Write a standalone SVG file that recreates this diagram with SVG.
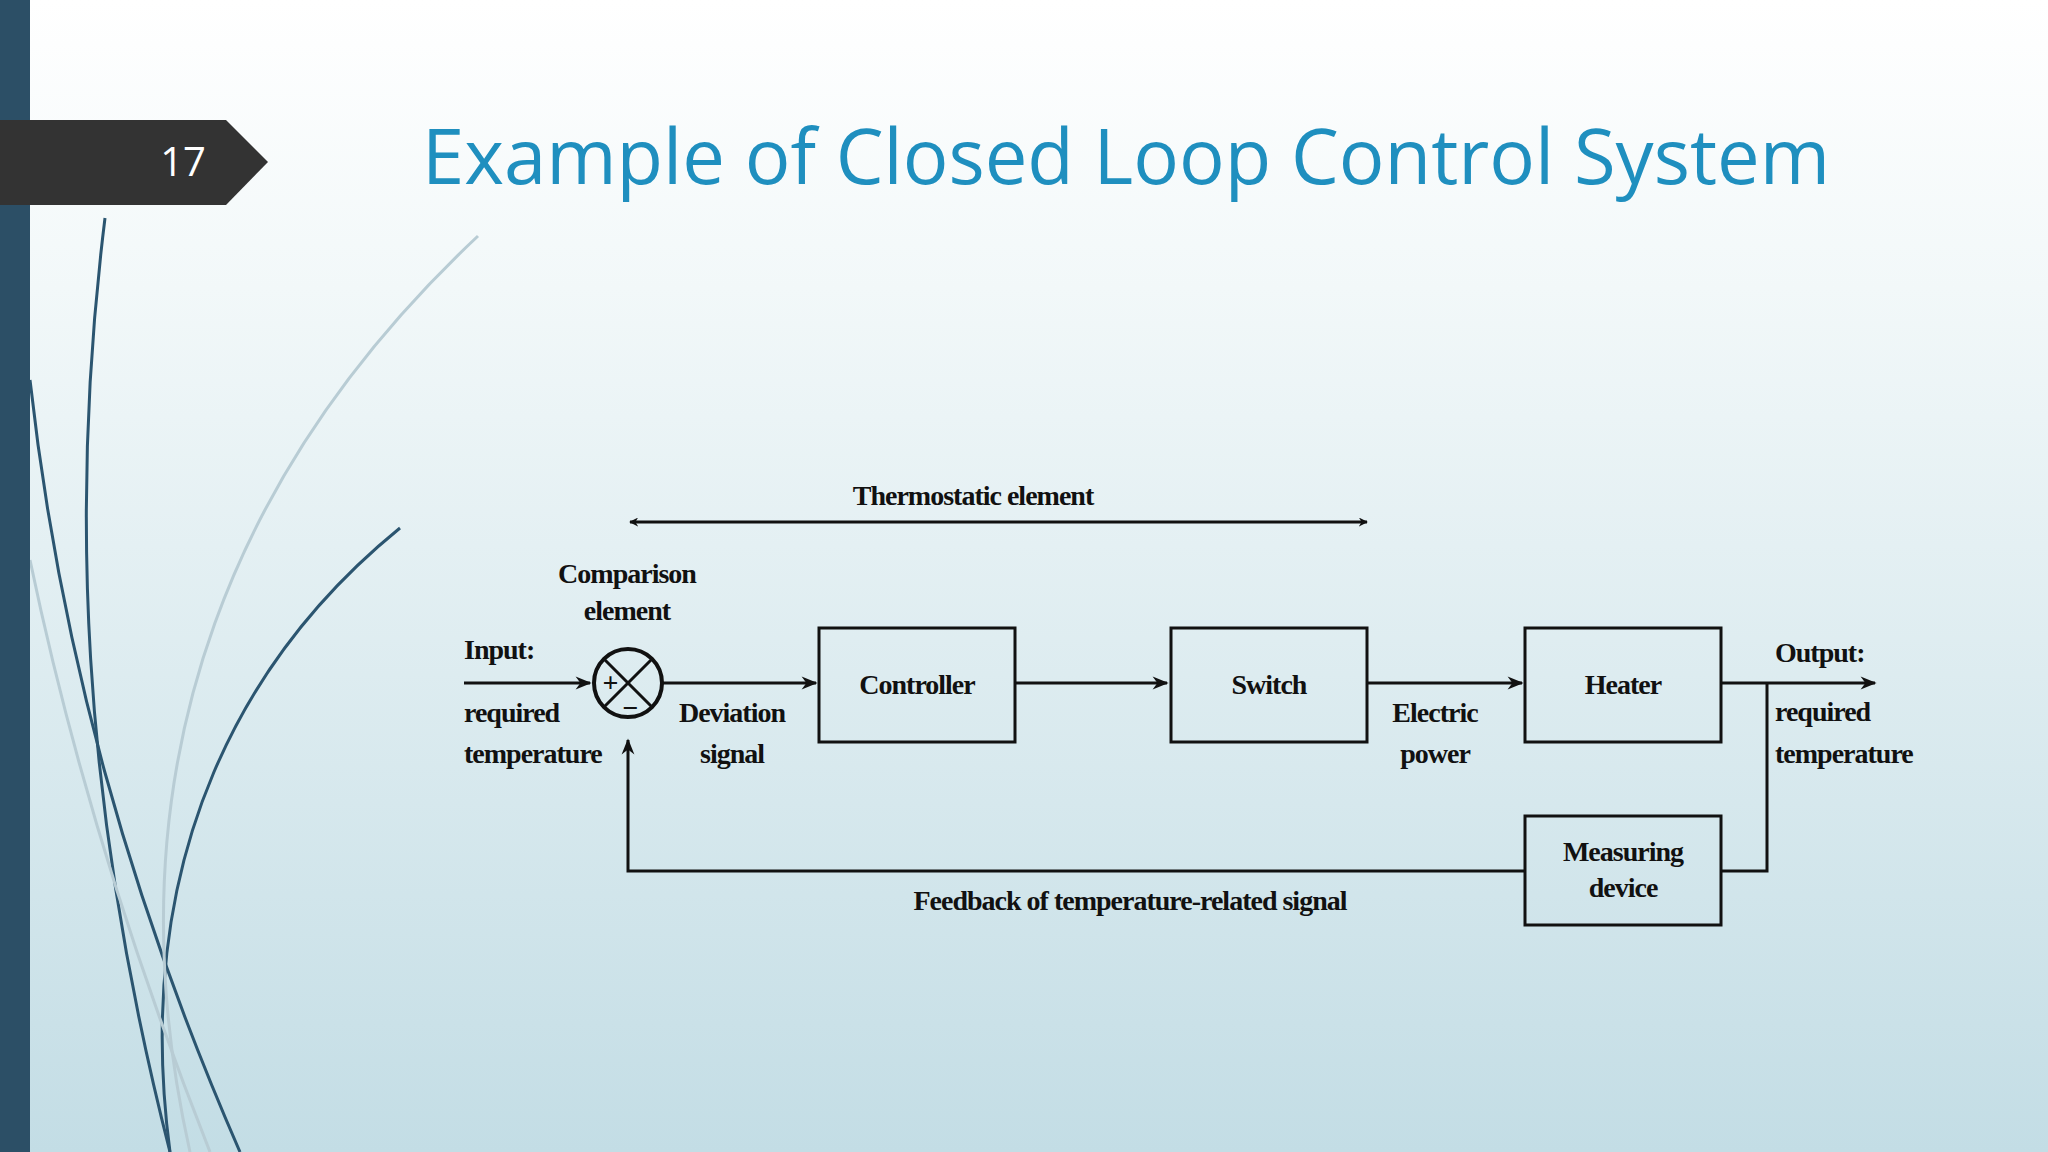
<svg xmlns="http://www.w3.org/2000/svg" width="2048" height="1152" viewBox="0 0 2048 1152">
<defs>
<linearGradient id="bg" x1="0" y1="0" x2="0" y2="1">
<stop offset="0" stop-color="#ffffff"/><stop offset="0.25" stop-color="#f2f8f9"/><stop offset="1" stop-color="#c3dde5"/>
</linearGradient>
<marker id="ah" viewBox="0 0 10 10" refX="9" refY="5" markerWidth="9" markerHeight="9" orient="auto-start-reverse" markerUnits="userSpaceOnUse"><path d="M0,0 L10,5 L0,10 L3,5 z" fill="#111"/></marker>
<marker id="ah2" viewBox="0 0 10 10" refX="9" refY="5" markerWidth="22" markerHeight="16" orient="auto-start-reverse" markerUnits="userSpaceOnUse"><path d="M0,1 L10,5 L0,9 L3,5 z" fill="#111"/></marker>
<style>
.t{font-family:"Liberation Serif",serif;font-size:28px;fill:#111;text-anchor:middle;font-weight:bold;letter-spacing:-1px}
.l{text-anchor:start}
.box{fill:none;stroke:#111;stroke-width:3}
.ln{fill:none;stroke:#111;stroke-width:3}
.deco{fill:none;stroke-width:3}
</style>
</defs>
<rect width="2048" height="1152" fill="url(#bg)"/>
<g id="decor">
<path class="deco" stroke="#2b5570" d="M105,218 C70,500 80,800 170,1152"/>
<path class="deco" stroke="#2b5570" d="M30,380 C60,650 130,900 240,1152"/>
<path class="deco" stroke="#2b5570" d="M400,528 C250,650 130,850 170,1152"/>
<path class="deco" stroke="#b8ccd4" d="M478,236 C250,450 100,750 190,1152"/>
<path class="deco" stroke="#b8ccd4" d="M30,560 C80,800 150,1000 210,1152"/>
<rect x="0" y="0" width="30" height="1152" fill="#2c4f66"/>
<path d="M0,120 H226 L268,162 L226,205 H0 z" fill="#333"/>
<text x="183" y="176" font-family="Open Sans, sans-serif" font-size="40" fill="#fff" text-anchor="middle">17</text>
<text x="1126" y="184" font-family="Open Sans, sans-serif" font-size="76" fill="#1f8fbf" text-anchor="middle">Example of Closed Loop Control System</text>
</g>
<g id="connectors">
<line class="ln" x1="630" y1="522" x2="1367" y2="522" marker-start="url(#ah)" marker-end="url(#ah)" stroke-width="2.5"/>
<line class="ln" x1="464" y1="683" x2="590" y2="683" marker-end="url(#ah2)"/>
<line class="ln" x1="663" y1="683" x2="816" y2="683" marker-end="url(#ah2)"/>
<line class="ln" x1="1015" y1="683" x2="1167" y2="683" marker-end="url(#ah2)"/>
<line class="ln" x1="1367" y1="683" x2="1522" y2="683" marker-end="url(#ah2)"/>
<line class="ln" x1="1721" y1="683" x2="1875" y2="683" marker-end="url(#ah2)"/>
<polyline class="ln" points="1767,683 1767,871 1721,871"/>
<polyline class="ln" points="1525,871 628,871 628,740" marker-end="url(#ah2)"/>
</g>
<g id="thermo"><text class="t" x="973" y="505">Thermostatic element</text></g>
<g id="comparison">
<text class="t" x="627" y="583">Comparison</text><text class="t" x="627" y="620">element</text>
<circle cx="628" cy="683" r="34" fill="none" stroke="#111" stroke-width="4"/>
<line class="ln" x1="604" y1="659" x2="652" y2="707" stroke-width="3.5"/>
<line class="ln" x1="652" y1="659" x2="604" y2="707" stroke-width="3.5"/>
<text class="t" x="610" y="692" font-size="22">+</text>
<text class="t" x="630" y="717" font-size="22">−</text>
</g>
<g id="input"><text class="t l" x="464" y="659">Input:</text><text class="t l" x="464" y="722">required</text><text class="t l" x="464" y="763">temperature</text></g>
<g id="deviation"><text class="t" x="732" y="722">Deviation</text><text class="t" x="732" y="763">signal</text></g>
<g id="controller"><rect class="box" x="819" y="628" width="196" height="114"/><text class="t" x="917" y="694">Controller</text></g>
<g id="switch"><rect class="box" x="1171" y="628" width="196" height="114"/><text class="t" x="1269" y="694">Switch</text></g>
<g id="power"><text class="t" x="1435" y="722">Electric</text><text class="t" x="1435" y="763">power</text></g>
<g id="heater"><rect class="box" x="1525" y="628" width="196" height="114"/><text class="t" x="1623" y="694">Heater</text></g>
<g id="output"><text class="t l" x="1775" y="662">Output:</text><text class="t l" x="1775" y="721">required</text><text class="t l" x="1775" y="763">temperature</text></g>
<g id="measuring"><rect class="box" x="1525" y="816" width="196" height="109"/><text class="t" x="1623" y="861">Measuring</text><text class="t" x="1623" y="897">device</text></g>
<g id="feedback"><text class="t" x="1130" y="910">Feedback of temperature-related signal</text></g>
</svg>
